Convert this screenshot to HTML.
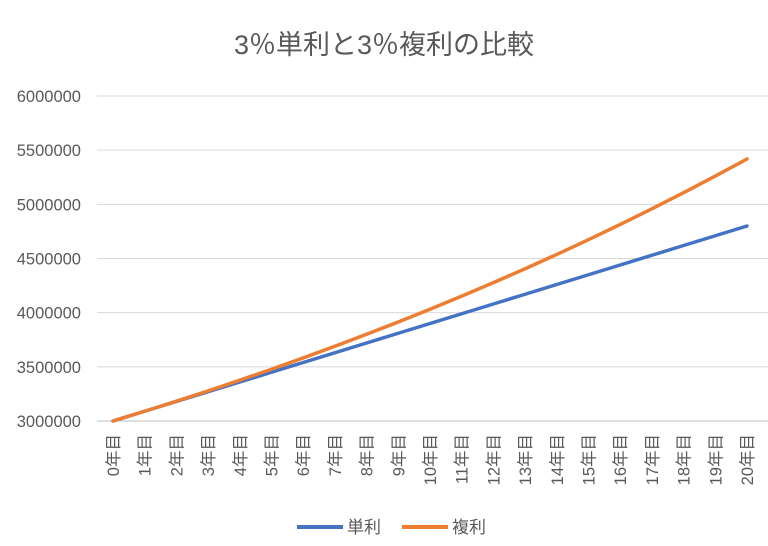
<!DOCTYPE html>
<html><head><meta charset="utf-8"><style>
body{margin:0;background:#fff;}
svg{display:block;font-family:"Liberation Sans","Noto Sans CJK JP",sans-serif;}
</style></head><body>
<svg id="chart" width="768" height="546" viewBox="0 0 768 546">
<text x="384" y="54" text-anchor="middle" font-size="27" fill="#595959">3％単利と3％複利の比較</text>
<g id="grid"></g><g id="xlabels"></g><g id="series"></g>
<g>
<line x1="297" y1="527" x2="343" y2="527" stroke="#4472C4" stroke-width="4"/>
<text x="347" y="533" font-size="17" fill="#595959">単利</text>
<line x1="402" y1="527" x2="448" y2="527" stroke="#ED7D31" stroke-width="4"/>
<text x="452" y="533" font-size="17" fill="#595959">複利</text>
</g>
</svg>
<script>
const categories=["0年目","1年目","2年目","3年目","4年目","5年目","6年目","7年目","8年目","9年目","10年目","11年目","12年目","13年目","14年目","15年目","16年目","17年目","18年目","19年目","20年目"];
const simpleValues=[3000000,3090000,3180000,3270000,3360000,3450000,3540000,3630000,3720000,3810000,3900000,3990000,4080000,4170000,4260000,4350000,4440000,4530000,4620000,4710000,4800000];
const compoundValues=[3000000,3090000,3182700,3278181,3376526,3477822,3582157,3689622,3800310,3914320,4031749,4152702,4277283,4405601,4537769,4673902,4814119,4958543,5107299,5260518,5418334];
const yTicks=[3000000,3500000,4000000,4500000,5000000,5500000,6000000];
const NS="http://www.w3.org/2000/svg";
const yMin=3000000,yMax=6000000,yTop=96,yBot=421;
const x0=113,x1=747;
function y(v){return yBot-(v-yMin)/(yMax-yMin)*(yBot-yTop);}
function x(i){return x0+i*(x1-x0)/(categories.length-1);}
const grid=document.getElementById('grid');
yTicks.forEach((t,i)=>{
const l=document.createElementNS(NS,'line');
l.setAttribute('x1',97);l.setAttribute('x2',768);l.setAttribute('y1',y(t));l.setAttribute('y2',y(t));
l.setAttribute('stroke',i==0?'#bfbfbf':'#d9d9d9');l.setAttribute('stroke-width',1);


grid.appendChild(l);
const tx=document.createElementNS(NS,'text');
tx.setAttribute('x',81);tx.setAttribute('y',y(t)+6);tx.setAttribute('text-anchor','end');
tx.setAttribute('font-size','16.5');tx.setAttribute('fill','#595959');tx.textContent=t;


grid.appendChild(tx);
});
const xl=document.getElementById('xlabels');
categories.forEach((c,i)=>{
const tx=document.createElementNS(NS,'text');
tx.setAttribute('transform','translate('+(x(i)+6)+',434) rotate(-90)');
tx.setAttribute('text-anchor','end');tx.setAttribute('font-size','16.5');tx.setAttribute('fill','#595959');
tx.textContent=c;


xl.appendChild(tx);
});
const sg=document.getElementById('series');
[[simpleValues,'#4472C4','series-simple'],[compoundValues,'#ED7D31','series-compound']].forEach(s=>{
const p=document.createElementNS(NS,'polyline');
p.setAttribute('points',s[0].map((v,i)=>x(i)+','+y(v)).join(' '));
p.setAttribute('fill','none');p.setAttribute('stroke',s[1]);p.setAttribute('stroke-width',3.5);
p.setAttribute('stroke-linejoin','round');p.setAttribute('stroke-linecap','round');


sg.appendChild(p);
});
</script>
</body></html>
